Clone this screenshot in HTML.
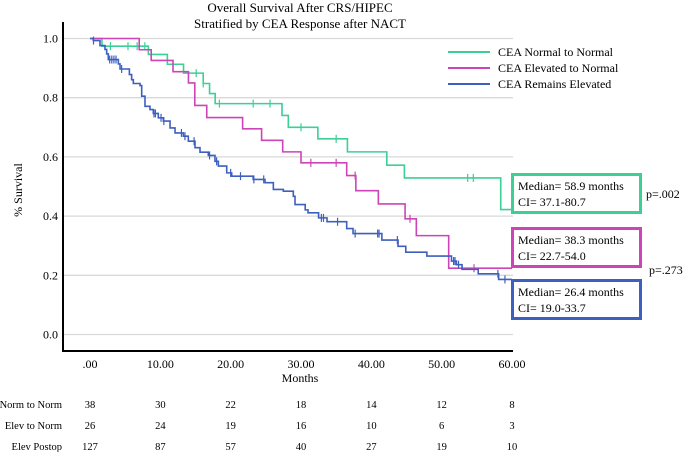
<!DOCTYPE html>
<html><head><meta charset="utf-8"><style>
body{margin:0;background:#fff;}
svg{display:block;font-family:"Liberation Serif",serif;}
</style></head><body>
<svg width="685" height="452" viewBox="0 0 685 452" id="chart">
<text x="300" y="12" text-anchor="middle" font-size="13">Overall Survival After  CRS/HIPEC</text>
<text x="300" y="28" text-anchor="middle" font-size="13">Stratified by CEA Response after NACT</text>
<g id="grid"></g>
<g id="series"></g>
<line x1="63" y1="22" x2="63" y2="351.5" stroke="#000" stroke-width="2"/>
<line x1="62" y1="351" x2="513" y2="351" stroke="#000" stroke-width="2"/>
<g id="ticks" font-size="12"></g>
<text transform="translate(22,190) rotate(-90)" text-anchor="middle" font-size="12">% Survival</text>
<text x="300" y="382" text-anchor="middle" font-size="12">Months</text>
<g font-size="12">
<line x1="448" y1="52" x2="490" y2="52" stroke="#3ccf96" stroke-width="2"/>
<text x="498" y="56">CEA Normal to Normal</text>
<line x1="448" y1="68" x2="490" y2="68" stroke="#cc44b8" stroke-width="2"/>
<text x="498" y="72">CEA Elevated to Normal</text>
<line x1="448" y1="84" x2="490" y2="84" stroke="#3d5fbf" stroke-width="2"/>
<text x="498" y="88">CEA Remains Elevated</text>
</g>
<g font-size="12">
<rect x="512.5" y="174.5" width="128" height="38" fill="#fff" stroke="#3ccf96" stroke-width="3"/>
<text x="518" y="190">Median= 58.9 months</text>
<text x="518" y="206">CI= 37.1-80.7</text>
<rect x="512.5" y="228.5" width="128" height="38" fill="#fff" stroke="#cc44b8" stroke-width="3"/>
<text x="518" y="244">Median= 38.3 months</text>
<text x="518" y="260">CI= 22.7-54.0</text>
<rect x="512.5" y="280.5" width="128" height="38" fill="#fff" stroke="#3d5fbf" stroke-width="3"/>
<text x="518" y="296">Median= 26.4 months</text>
<text x="518" y="312">CI= 19.0-33.7</text>
<text x="646" y="198">p=.002</text>
<text x="649" y="274">p=.273</text>
</g>
<g id="risk" font-size="10.5"></g>
</svg>
<script>
const yTicks=[0,0.2,0.4,0.6,0.8,1.0];
const xTicks=[0,10,20,30,40,50,60];
const xTickLabels=[".00","10.00","20.00","30.00","40.00","50.00","60.00"];
// step series: [month, survival after drop]
const normalSteps=[[1.7,0.974],[8.3,0.946],[11.0,0.913],[13.3,0.883],[16.1,0.848],[17.0,0.814],[17.8,0.78],[27.3,0.74],[28.2,0.70],[32.4,0.661],[36.6,0.617],[42.2,0.572],[44.7,0.529],[58.4,0.422]];
const normalCensor=[2.9,5.4,6.7,7.8,15.1,16.1,18.4,23.2,25.6,30.0,35.0,53.7,54.5];
const elevNormSteps=[[7.0,0.962],[8.7,0.926],[11.8,0.888],[14.0,0.85],[14.9,0.774],[16.6,0.733],[21.7,0.695],[24.4,0.656],[27.4,0.617],[30.0,0.58],[36.5,0.537],[37.8,0.486],[41.0,0.441],[44.8,0.391],[46.4,0.334],[51.0,0.224]];
const elevNormCensor=[31.4,35.0,37.7,45.5,54.6];
const remainsSteps=[[0.47,0.993],[1.42,0.976],[2.13,0.963],[2.37,0.948],[2.6,0.929],[4.03,0.914],[4.27,0.897],[5.6,0.878],[5.92,0.861],[6.16,0.848],[7.11,0.841],[7.35,0.805],[7.82,0.771],[8.53,0.760],[9.0,0.747],[9.71,0.732],[10.43,0.721],[11.38,0.698],[12.09,0.681],[13.27,0.670],[13.98,0.653],[14.93,0.631],[15.64,0.616],[16.82,0.605],[17.77,0.585],[18.25,0.569],[19.44,0.546],[20.15,0.535],[23.2,0.524],[24.88,0.513],[26.07,0.490],[27.49,0.484],[28.91,0.467],[29.15,0.439],[30.6,0.421],[31.0,0.411],[32.5,0.394],[33.7,0.381],[36.5,0.358],[37.4,0.341],[41.5,0.319],[43.8,0.298],[44.9,0.278],[47.9,0.265],[51.4,0.248],[52.1,0.236],[52.9,0.220],[55.2,0.205],[58.1,0.186]];
const remainsCensor=[0.5,2.8,3.1,3.4,3.7,4.5,9.1,9.3,10.1,10.5,13.0,13.5,14.8,17.0,18.0,20.0,21.4,23.3,24.7,32.9,33.2,35.2,37.7,40.9,41.1,43.7,51.7,51.9,52.4,58.0,59.0];
const riskLabels=["Norm to Norm","Elev to Norm","Elev Postop"];
const riskNormal=[38,30,22,18,14,12,8];
const riskElevNorm=[26,24,19,16,10,6,3];
const riskRemains=[127,87,57,40,27,19,10];

const NS="http://www.w3.org/2000/svg";
const xs=m=>90+m*7.033;
const ys=v=>334.5-v*296;
function mk(tag,attrs,parent){const e=document.createElementNS(NS,tag);for(const k in attrs)e.setAttribute(k,attrs[k]);parent.appendChild(e);return e;}
const grid=document.getElementById('grid'),ticks=document.getElementById('ticks'),ser=document.getElementById('series'),risk=document.getElementById('risk');
yTicks.forEach(v=>{
 const l=mk('line',{x1:63,x2:513,y1:ys(v),y2:ys(v),stroke:'#d9d9d9','stroke-width':1.3},grid);
 
 
 const t=mk('text',{x:58,y:ys(v)+4,'text-anchor':'end'},ticks);t.textContent=v.toFixed(1);
 
 
});
xTicks.forEach((m,i)=>{
 const t=mk('text',{x:xs(m),y:368,'text-anchor':'middle'},ticks);t.textContent=xTickLabels[i];
 
 
});
function valAt(steps,m){let v=1;for(const s of steps){if(s[0]<=m)v=s[1];}return v;}
function draw(steps,censor,color,name){
 let d=`M${xs(0)},${ys(1)}`;
 steps.forEach(s=>{d+=` H${xs(s[0])} V${ys(s[1])}`;});
 d+=` H${xs(60)}`;
 const p=mk('path',{d:d,fill:'none',stroke:color,'stroke-width':1.6},ser);
 
 
 censor.forEach(c=>{
  const y=ys(valAt(steps,c));
  const l=mk('line',{x1:xs(c),x2:xs(c),y1:y-4,y2:y+4,stroke:color,'stroke-width':1.2},ser);
  
  
 });
}
draw(normalSteps,normalCensor,'#3ccf96','normal-to-normal');
draw(elevNormSteps,elevNormCensor,'#cc44b8','elevated-to-normal');
draw(remainsSteps,remainsCensor,'#3d5fbf','remains-elevated');
[riskNormal,riskElevNorm,riskRemains].forEach((row,r)=>{
 const y=408+r*21;
 const lb=mk('text',{x:62,y:y,'text-anchor':'end'},risk);lb.textContent=riskLabels[r];
 
 
 row.forEach((n,i)=>{
  const t=mk('text',{x:xs(xTicks[i]),y:y,'text-anchor':'middle'},risk);t.textContent=n;
  
  
 });
});
</script>
</body></html>
